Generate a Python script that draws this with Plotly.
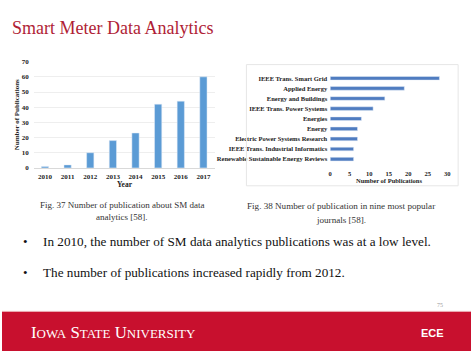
import plotly.graph_objects as go

years = ["2010", "2011", "2012", "2013", "2014", "2015", "2016", "2017"]
year_counts = [1, 2, 10, 18, 23, 42, 44, 60]

journals = [
    "IEEE Trans. Smart Grid",
    "Applied Energy",
    "Energy and Buildings",
    "IEEE Trans. Power Systems",
    "Energies",
    "Energy",
    "Electric Power Systems Research",
    "IEEE Trans. Industrial Informatics",
    "Renewable Sustainable Energy Reviews",
]
journal_counts = [28, 19, 14, 11, 8, 7, 7, 6, 6]

W, H = 474, 355
SERIF = "Liberation Serif, Times New Roman, serif"


def px(x):
    return x / W


def py(y):
    return 1 - y / H


fig = go.Figure()

fig.add_trace(go.Bar(
    x=years, y=year_counts, marker_color="#5B9BD5", width=0.32,
    xaxis="x", yaxis="y", showlegend=False,
))
fig.add_trace(go.Bar(
    x=journal_counts, y=journals, orientation="h", marker_color="#4F7CC0",
    width=0.36, xaxis="x2", yaxis="y2", showlegend=False,
))

tickfont = dict(family=SERIF, size=7, color="#222", weight="bold")

fig.update_layout(
    width=W, height=H,
    margin=dict(l=0, r=0, t=0, b=0),
    paper_bgcolor="white", plot_bgcolor="white",
    bargap=0.6,
    xaxis=dict(
        domain=[px(32), px(215)], anchor="y", type="category",
        tickfont=tickfont, showgrid=False, showline=True, linecolor="#d9d9d9",
        ticks="", ticklabelstandoff=2,
    ),
    yaxis=dict(
        domain=[py(167.7), py(59)], anchor="x", range=[0, 70],
        tickvals=[0, 10, 20, 30, 40, 50, 60, 70], tickfont=tickfont,
        showgrid=True, gridcolor="#eeeeee", zeroline=False, ticks="",
        ticklabelstandoff=4,
    ),
    xaxis2=dict(
        domain=[px(331.7), px(450)], anchor="y2", range=[0, 30],
        tickvals=[0, 5, 10, 15, 20, 25, 30],
        tickfont=dict(family=SERIF, size=6.5, color="#222", weight="bold"),
        showgrid=False, zeroline=False, ticks="", ticklabelstandoff=4,
    ),
    yaxis2=dict(
        domain=[py(163.9), py(70.8)], anchor="x2", autorange="reversed",
        tickfont=dict(family=SERIF, size=6.5, color="#222", weight="bold"),
        showgrid=False, ticks="", ticklabelstandoff=2,
    ),
    shapes=[
        dict(type="rect", xref="paper", yref="paper",
             x0=px(247), x1=px(461), y0=py(186), y1=py(62),
             line=dict(color="#e6e6e6", width=1)),
        dict(type="rect", xref="paper", yref="paper",
             x0=0, x1=1, y0=py(355), y1=py(315),
             line=dict(width=0), fillcolor="#C8102E", layer="below"),
        dict(type="line", xref="paper", yref="paper",
             x0=0, x1=1, y0=py(314.5), y1=py(314.5),
             line=dict(color="#e8a0a8", width=1)),
    ],
)

ann = []


def text(x, y, s, size, color="#222", xanchor="left", family=SERIF, **kw):
    ann.append(dict(x=px(x), y=py(y), xref="paper", yref="paper", text=s,
                    showarrow=False, xanchor=xanchor, yanchor="middle",
                    font=dict(family=family, size=size, color=color), **kw))


text(8, 25, "Smart Meter Data Analytics", 18, color="#B01E36")
text(16, 113, "<b>Number of Publications</b>", 7, textangle=-90, xanchor="center")
text(124, 185, "<b>Year</b>", 7.5, xanchor="center")
text(390.8, 181, "<b>Number of Publications</b>", 6.5, xanchor="center")

text(121, 205.5, "Fig. 37 Number of publication about SM data", 9, xanchor="center", color="#333")
text(121, 218, "analytics [58].", 9, xanchor="center", color="#333")
text(343, 207, "Fig. 38 Number of publication in nine most popular", 9.1, xanchor="center", color="#333")
text(343, 220.5, "journals [58].", 9.1, xanchor="center", color="#333")

text(19, 243, "•", 13, color="#111")
text(39, 243, "In 2010, the number of SM data analytics publications was at a low level.", 13.2, color="#111")
text(19, 275, "•", 13, color="#111")
text(39, 275, "The number of publications increased rapidly from 2012.", 13.2, color="#111")

text(448, 308, "75", 6, color="#999", xanchor="right")
text(27, 336, "I<span style='font-size:13px'>OWA</span> S<span style='font-size:13px'>TATE</span> U<span style='font-size:13px'>NIVERSITY</span>",
     16.8, color="white")
text(449, 336.5, "<b>ECE</b>", 11, color="white", xanchor="right",
     family="Liberation Sans, Arial, sans-serif")

fig.update_layout(annotations=ann)

fig.write_html(
    "out.html",
    config={"displayModeBar": False},
    post_script=(
        "document.documentElement.style.margin='0';"
        "document.documentElement.style.overflow='hidden';"
        "document.body.style.margin='0';document.body.style.padding='0';"
        "document.body.style.overflow='hidden';"
    ),
)
